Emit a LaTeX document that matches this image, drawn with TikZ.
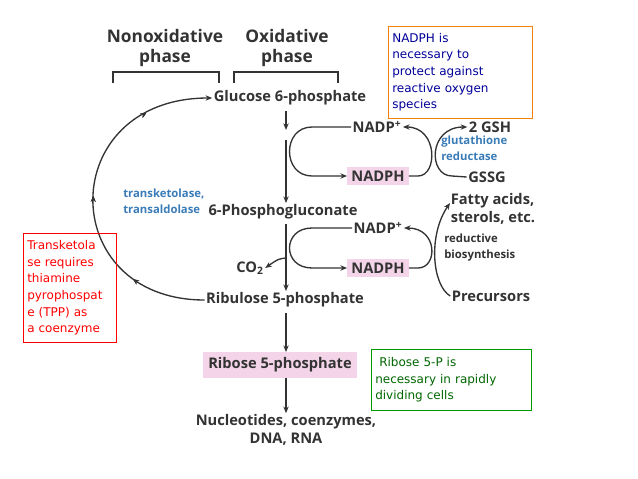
\documentclass[tikz,border=0pt]{standalone}
\usepackage{fontspec}
\setmainfont{Open Sans}
\newfontfamily\notefont{DejaVu Sans}
\usetikzlibrary{arrows.meta,decorations.markings}
\definecolor{txt}{HTML}{333333}
\definecolor{enz}{HTML}{3A7CB8}
\definecolor{pinkb}{HTML}{F4D4E8}
\begin{document}
\begin{tikzpicture}[x=0.75pt,y=-0.75pt,
  lab/.style={font=\bfseries\fontsize{11}{13}\selectfont,text=txt,inner sep=1pt},
  head/.style={font=\bfseries\fontsize{13}{14.5}\selectfont,text=txt,align=center},
  enzy/.style={font=\bfseries\fontsize{8.5}{12}\selectfont,text=enz,align=left,inner sep=0pt},
  small/.style={font=\bfseries\fontsize{8.5}{12}\selectfont,text=txt,align=left,inner sep=0pt},
  pk/.style={fill=pinkb},
  ln/.style={line width=1pt,draw=txt},
  ar/.style={ln,-{Stealth[length=5pt,width=4pt]}},
  midar/.style={postaction={decorate},decoration={markings,mark=at position #1 with {\arrow[txt]{Stealth[length=4pt,width=3.5pt]}}}},
  note/.style={font=\notefont\fontsize{9}{12.5}\selectfont,align=left,inner sep=3pt,text width=#1}]
\useasboundingbox (0,0) rectangle (638,478);
\fill[white] (0,0) rectangle (638,478);
\node[head] (nonox) at (165,48) {Nonoxidative\\phase};
\node[head] (oxid) at (287,48) {Oxidative\\phase};
\draw[ln] (113,83) -- (113,72) -- (219,72) -- (219,83);
\draw[ln] (234,83) -- (234,72) -- (338,72) -- (338,83);
\node[lab] (g6p) at (290,98) {Glucose 6-phosphate};
\node[lab] (pg) at (283,212) {6-Phosphogluconate};
\node[lab] (ru5p) at (285,300) {Ribulose 5-phosphate};
\node[lab,pk,inner sep=4pt] (r5p) at (280,365) {Ribose 5-phosphate};
\node[lab,align=center] (nuc) at (286,430) {Nucleotides, coenzymes,\\DNA, RNA};
\node[lab] (nadp1) at (377,127) {NADP\textsuperscript{+}};
\node[lab,pk,inner sep=3pt] (nadph1) at (378,176) {NADPH};
\node[lab] (nadp2) at (378,228) {NADP\textsuperscript{+}};
\node[lab,pk,inner sep=3pt] (nadph2) at (378,268) {NADPH};
\node[lab] (gsh) at (490,127) {2 GSH};
\node[lab] (gssg) at (487,177) {GSSG};
\node[enzy,anchor=north west] (gr) at (441,136) {glutathione\\reductase};
\node[enzy,anchor=north west] (tk) at (123,189) {transketolase,\\transaldolase};
\node[lab,align=left] (fa) at (493,209) {Fatty acids,\\sterols, etc.};
\node[small,anchor=north west] (rb) at (444,234) {reductive\\biosynthesis};
\node[lab] (prec) at (491,296) {Precursors};
\node[lab] (co2) at (250,268) {CO\textsubscript{2}};
% main vertical
\draw[ar] (286,111) -- (286,130);
\draw[ar] (286,140) -- (pg.north -| 286,0);
\draw[ar] (286,224) -- (ru5p.north -| 286,0);
\draw[ar] (286,313) -- (r5p.north -| 286,0);
\draw[ar] (286,378) -- (nuc.north -| 286,0);
\draw[ar] (286,258) .. controls (278,259) .. (co2.east);
% upper loop
\draw[ar] (nadp1.west) -- (312,127) .. controls (282,127) and (282,176) .. (312,176) -- (nadph1.west);
\draw[ar] (nadph1.east) -- (418,176) .. controls (438,176) and (438,127) .. (nadp1.east);
\draw[ar] (gssg.west) -- (452,176) .. controls (428,176) and (428,127) .. (gsh.west);
% lower loop
\draw[ar] (nadp2.west) -- (312,228) .. controls (282,228) and (282,268) .. (312,268) -- (nadph2.west);
\draw[ar] (nadph2.east) -- (418,268) .. controls (438,268) and (438,228) .. (nadp2.east);
\draw[ar] (prec.west) .. controls (432,285) and (428,235) .. (450,203);
% big left arc
\draw[ar,midar=0.22,midar=0.5,midar=0.8] (ru5p.west) .. controls (55,300) and (55,98) .. (g6p.west);
% notes
\node[note=102pt,draw=orange!80!brown,anchor=north west,text=blue!60!black,minimum height=69pt] (n1) at (388,26) {NADPH is\\necessary to\\protect against\\reactive oxygen\\species};
\node[note=64pt,draw=red,anchor=north west,text=red,minimum height=82pt] (n2) at (23,233) {Transketola\\se requires\\thiamine\\pyrophospat\\e (TPP) as\\a coenzyme};
\node[note=114pt,draw=green!60!black,anchor=north west,text=green!40!black,minimum height=46pt] (n3) at (371,349) {\ Ribose 5-P is\\necessary in rapidly\\dividing cells};
\end{tikzpicture}
\end{document}
